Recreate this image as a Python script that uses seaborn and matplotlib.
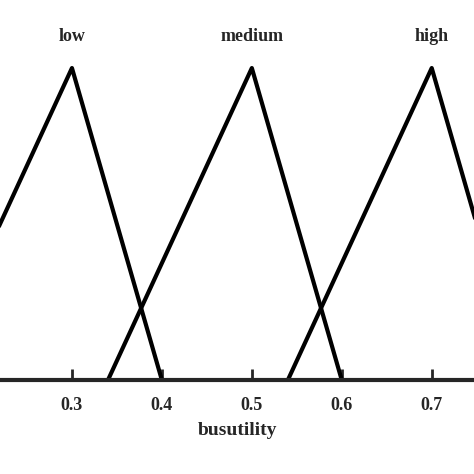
import matplotlib
matplotlib.use("Agg")
import matplotlib.pyplot as plt
import seaborn as sns
import pandas as pd

sns.set_style("white")
plt.rcParams['font.family'] = ['Liberation Serif', 'DejaVu Serif']

names = ['low', 'medium', 'high']
left = [0.14, 0.34, 0.54]
peak = [0.3, 0.5, 0.7]
right = [0.4, 0.6, 0.8]
ticks = [0.3, 0.4, 0.5, 0.6, 0.7]

fig = plt.figure(figsize=(4.74, 4.74), dpi=100)
ax = fig.add_axes([0, 0.198, 1, 0.802])
for n, a, b, c in zip(names, left, peak, right):
    d = pd.DataFrame({'x': [a, b, c], 'y': [0, 1, 0]})
    sns.lineplot(data=d, x='x', y='y', color='black', lw=3, ax=ax, sort=False)
    ax.text(b, 1.1, n, ha='center', va='center', fontsize=13, fontweight='bold')

ax.set_xlim(0.22, 0.747)
ax.set_ylim(0, 1.218)
for s in ['top', 'right', 'left']:
    ax.spines[s].set_visible(False)
ax.spines['bottom'].set_linewidth(3)
ax.set_yticks([])
ax.set_xticks(ticks)
ax.set_xticklabels([str(t) for t in ticks], fontsize=13, fontweight='bold')
ax.tick_params(axis='x', direction='in', length=8, width=2, pad=12, bottom=True)
ax.set_xlabel('busutility', fontsize=14, fontweight='bold', labelpad=6)
ax.set_ylabel('')
fig.savefig('out.png', dpi=100)
